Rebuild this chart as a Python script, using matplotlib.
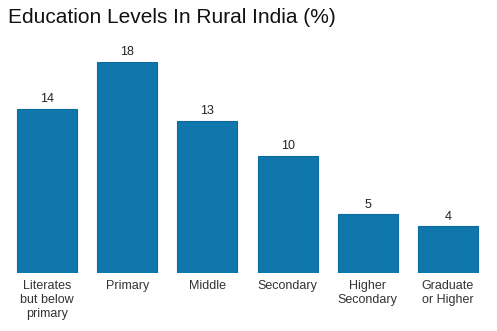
import matplotlib
matplotlib.use("Agg")
import matplotlib.pyplot as plt

categories = ["Literates\nbut below\nprimary", "Primary", "Middle", "Secondary",
              "Higher\nSecondary", "Graduate\nor Higher"]
values = [14, 18, 13, 10, 5, 4]

plt.rcParams['font.family'] = ['Liberation Sans', 'DejaVu Sans']

fig = plt.figure(figsize=(4.97, 3.31), dpi=100)
W, H = 497, 331
# axes: x from 7 to 488 px, y from 62 (value 18) to 273 (value 0)
ax = fig.add_axes([7 / W, (H - 273) / H, 481 / W, 211 / H])

x = range(len(values))
ax.bar(x, values, width=60 / 80.2, color="#1077ad", edgecolor="#0d6a9c", linewidth=0.8)
for xi, v in zip(x, values):
    ax.text(xi, v + 0.3, str(v), ha="center", va="bottom", fontsize=9, color="#222222", clip_on=False)

ax.set_xlim(-0.5, len(values) - 0.5)
ax.set_ylim(0, 18)
ax.set_xticks(list(x))
ax.set_xticklabels(categories, fontsize=9, color="#333333", linespacing=1.2)
ax.tick_params(axis="x", length=0, pad=5)
ax.set_yticks([])
for s in ax.spines.values():
    s.set_visible(False)

fig.text(8 / W, 1 - 8 / H, "Education Levels In Rural India (%)", fontsize=15,
         ha="left", va="top", color="#111111")

fig.savefig("out.png", dpi=100)
